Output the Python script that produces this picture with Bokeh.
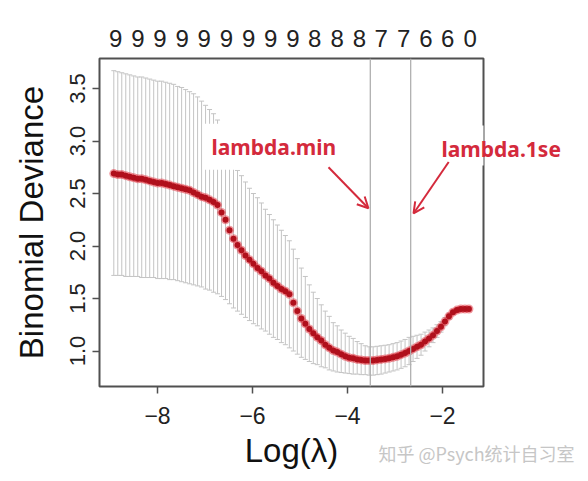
from bokeh.plotting import figure
from bokeh.models import (ColumnDataSource, Range1d, LinearAxis, FixedTicker, Whisker,
                          TeeHead, Span, Label, Arrow, OpenHead, BoxAnnotation)
from bokeh.embed import file_html
from bokeh.resources import INLINE

# ---------------- data ----------------
log_lambda = [
    -8.920, -8.836, -8.752, -8.668, -8.584, -8.500, -8.416, -8.332, -8.248, -8.164,
    -8.080, -7.996, -7.912, -7.828, -7.744, -7.660, -7.576, -7.492, -7.408, -7.324,
    -7.240, -7.156, -7.072, -6.988, -6.904, -6.820, -6.736, -6.652, -6.568, -6.484,
    -6.400, -6.316, -6.232, -6.148, -6.064, -5.980, -5.896, -5.812, -5.728, -5.644,
    -5.560, -5.476, -5.392, -5.308, -5.224, -5.140, -5.056, -4.972, -4.888, -4.804,
    -4.720, -4.636, -4.552, -4.468, -4.384, -4.300, -4.216, -4.132, -4.048, -3.964,
    -3.880, -3.796, -3.712, -3.628, -3.544, -3.460, -3.376, -3.292, -3.208, -3.124,
    -3.040, -2.956, -2.872, -2.788, -2.704, -2.620, -2.536, -2.452, -2.368, -2.284,
    -2.200, -2.116, -2.032, -1.948, -1.864, -1.780, -1.696, -1.612, -1.528, -1.444,
]
cv_mean = [
    2.69, 2.68, 2.68, 2.67, 2.66, 2.65, 2.64, 2.64, 2.63, 2.62,
    2.61, 2.60, 2.60, 2.59, 2.58, 2.57, 2.56, 2.55, 2.54, 2.53,
    2.51, 2.49, 2.47, 2.46, 2.44, 2.42, 2.39, 2.32, 2.25, 2.15,
    2.07, 2.01, 1.96, 1.91, 1.87, 1.83, 1.79, 1.76, 1.72, 1.69,
    1.65, 1.62, 1.59, 1.57, 1.54, 1.46, 1.38, 1.31, 1.26, 1.21,
    1.17, 1.13, 1.10, 1.06, 1.03, 1.005, 0.99, 0.97, 0.95, 0.935,
    0.93, 0.92, 0.915, 0.91, 0.91, 0.91, 0.915, 0.92, 0.925, 0.93,
    0.94, 0.95, 0.965, 0.98, 1.00, 1.02, 1.04, 1.06, 1.09, 1.12,
    1.15, 1.19, 1.23, 1.28, 1.33, 1.37, 1.39, 1.40, 1.40, 1.40,
]
cv_upper = [
    3.67, 3.66, 3.65, 3.64, 3.63, 3.62, 3.61, 3.61, 3.60, 3.59,
    3.58, 3.57, 3.57, 3.56, 3.55, 3.54, 3.52, 3.51, 3.49, 3.47,
    3.45, 3.42, 3.38, 3.34, 3.30, 3.26, 3.20, 3.10, 3.00, 2.86,
    2.76, 2.72, 2.67, 2.61, 2.55, 2.50, 2.46, 2.41, 2.35, 2.30,
    2.25, 2.20, 2.15, 2.10, 2.05, 1.97, 1.88, 1.79, 1.71, 1.63,
    1.56, 1.50, 1.44, 1.38, 1.33, 1.27, 1.24, 1.20, 1.17, 1.14,
    1.12, 1.09, 1.07, 1.05, 1.04, 1.04, 1.045, 1.05, 1.055, 1.06,
    1.07, 1.08, 1.095, 1.11, 1.13, 1.14, 1.15, 1.16, 1.18, 1.20,
    1.22, 1.25, 1.28, 1.32, 1.36, 1.39, 1.41, 1.42, 1.42, 1.42,
]
cv_lower = [
    1.72, 1.72, 1.72, 1.71, 1.71, 1.71, 1.71, 1.70, 1.70, 1.70,
    1.70, 1.69, 1.69, 1.69, 1.68, 1.68, 1.67, 1.66, 1.65, 1.64,
    1.63, 1.62, 1.61, 1.59, 1.58, 1.56, 1.545, 1.52, 1.49, 1.45,
    1.41, 1.38, 1.35, 1.32, 1.29, 1.26, 1.24, 1.21, 1.19, 1.16,
    1.13, 1.11, 1.08, 1.06, 1.03, 1.00, 0.97, 0.94, 0.92, 0.90,
    0.88, 0.87, 0.85, 0.84, 0.82, 0.81, 0.80, 0.795, 0.79, 0.785,
    0.78, 0.78, 0.775, 0.775, 0.77, 0.77, 0.775, 0.78, 0.79, 0.80,
    0.81, 0.82, 0.835, 0.85, 0.87, 0.90, 0.93, 0.96, 1.00, 1.04,
    1.08, 1.13, 1.18, 1.24, 1.30, 1.35, 1.37, 1.38, 1.38, 1.38,
]

nzero_pos = [-8.88, -8.41, -7.95, -7.48, -7.02, -6.55, -6.08, -5.62, -5.15,
             -4.69, -4.22, -3.75, -3.29, -2.82, -2.35, -1.89, -1.42]
nzero_labels = ["9", "9", "9", "9", "9", "9", "9", "9", "9",
                "8", "8", "8", "7", "7", "6", "6", "0"]

x_ticks = [-8, -6, -4, -2]
x_tick_labels = ["\u22128", "\u22126", "\u22124", "\u22122"]
y_ticks = [1.0, 1.5, 2.0, 2.5, 3.0, 3.5]
y_tick_labels = ["1.0", "1.5", "2.0", "2.5", "3.0", "3.5"]

lambda_min = -3.52
lambda_1se = -2.67

x_title = "Log(\u03bb)"
y_title = "Binomial Deviance"
label_min = "lambda.min"
label_1se = "lambda.1se"
watermark = "知乎 @Psych统计自习室"

# annotation placement (data coordinates)
label_min_xy = (-5.55, 2.945)
label_1se_y = 2.92
label_1se_box = (-2.25, -1.0, 2.767, 3.148)   # left, right, bottom, top
arrow_min = (-4.40, 2.75, -3.56, 2.36)
arrow_1se = (-1.87, 2.80, -2.61, 2.31)
watermark_x = -1.284

# ---------------- figure ----------------
RED = "#d42a3c"
GREY = "#c4c4c4"
FRAME = "#505050"
FONT = "Liberation Sans"

p = figure(width=588, height=481, output_backend="svg", toolbar_location=None,
           x_range=Range1d(-9.221, -1.137), y_range=Range1d(0.662, 3.786),
           x_axis_location=None, y_axis_location=None,
           min_border_left=99, min_border_right=105, min_border_top=58, min_border_bottom=95)
p.xgrid.visible = False
p.ygrid.visible = False
p.outline_line_color = FRAME
p.outline_line_width = 2
p.background_fill_color = "white"
p.border_fill_color = "white"

src = ColumnDataSource(dict(x=log_lambda, m=cv_mean, up=cv_upper, lo=cv_lower))

# white patch behind lambda.1se (inside the frame)
p.add_layout(BoxAnnotation(left=label_1se_box[0], right=label_1se_box[1],
                           bottom=label_1se_box[2], top=label_1se_box[3],
                           fill_color="white", fill_alpha=1.0, line_color=None,
                           level="underlay"))

# error bars
wh = Whisker(base="x", upper="up", lower="lo", source=src, line_color=GREY, line_width=1,
             upper_head=TeeHead(size=5, line_color=GREY, line_width=1),
             lower_head=TeeHead(size=5, line_color=GREY, line_width=1))
p.add_layout(wh)

# mean points (soft halo + dark core)
p.scatter("x", "m", source=src, size=9, fill_color="#e3343f", fill_alpha=0.5, line_color=None)
p.scatter("x", "m", source=src, size=6, fill_color="#b0101c", line_color=None)

# vertical reference lines
for v in (lambda_min, lambda_1se):
    p.add_layout(Span(location=v, dimension="height", line_color="#b0b0b0", line_width=1.3))

# axes
def style_axis(ax, size):
    ax.axis_line_color = None
    ax.major_tick_line_color = FRAME
    ax.major_tick_line_width = 1.5
    ax.major_tick_in = 0
    ax.minor_tick_line_color = None
    ax.major_label_text_font = FONT
    ax.major_label_text_font_size = size
    ax.major_label_text_color = "#222222"
    ax.axis_label_text_font = FONT
    ax.axis_label_text_font_style = "normal"
    ax.axis_label_text_font_size = "33px"
    ax.axis_label_text_color = "#111111"

xb = LinearAxis(ticker=FixedTicker(ticks=x_ticks),
                major_label_overrides=dict(zip(x_ticks, x_tick_labels)),
                axis_label=x_title)
style_axis(xb, "23px")
xb.major_tick_out = 7
xb.major_label_standoff = 13
xb.axis_label_standoff = 5
p.add_layout(xb, "below")

# watermark, drawn as a label row pulled up beside the x title
xw = LinearAxis(ticker=FixedTicker(ticks=[watermark_x]),
                major_label_overrides={watermark_x: watermark})
style_axis(xw, "18px")
xw.major_tick_out = 0
xw.major_tick_line_color = None
xw.major_label_text_font = "Noto Sans CJK SC"
xw.major_label_text_color = "#c6c6c6"
xw.major_label_standoff = -32
p.add_layout(xw, "below")

yl = LinearAxis(ticker=FixedTicker(ticks=y_ticks),
                major_label_overrides=dict(zip(y_ticks, y_tick_labels)),
                axis_label=y_title, major_label_orientation="vertical")
style_axis(yl, "22px")
yl.major_tick_out = 7
yl.major_label_standoff = 7
yl.axis_label_standoff = 18
p.add_layout(yl, "left")

xt = LinearAxis(ticker=FixedTicker(ticks=nzero_pos),
                major_label_overrides=dict(zip(nzero_pos, nzero_labels)))
style_axis(xt, "24px")
xt.major_tick_out = 0
xt.major_tick_line_color = None
xt.major_label_standoff = 12
p.add_layout(xt, "above")

# lambda.1se text: a label row on the right side, reaching back over the frame edge
yr = LinearAxis(ticker=FixedTicker(ticks=[label_1se_y]),
                major_label_overrides={label_1se_y: label_1se})
style_axis(yr, "21px")
yr.major_tick_out = 0
yr.major_tick_line_color = None
yr.major_label_text_font = "Noto Sans"
yr.major_label_text_font_style = "bold"
yr.major_label_text_color = RED
yr.major_label_standoff = -42
p.add_layout(yr, "right")

# lambda.min text with white box
p.add_layout(Label(x=label_min_xy[0], y=label_min_xy[1], text=label_min,
                   text_align="center", text_baseline="middle",
                   text_font="Noto Sans", text_font_style="bold", text_font_size="21px",
                   text_color=RED, background_fill_color="white", background_fill_alpha=1.0,
                   padding=9))

for (x0, y0, x1, y1) in (arrow_min, arrow_1se):
    p.add_layout(Arrow(x_start=x0, y_start=y0, x_end=x1, y_end=y1,
                       line_color=RED, line_width=2,
                       end=OpenHead(size=11, line_color=RED, line_width=2)))

open("out.html", "w").write(file_html(p, INLINE))
